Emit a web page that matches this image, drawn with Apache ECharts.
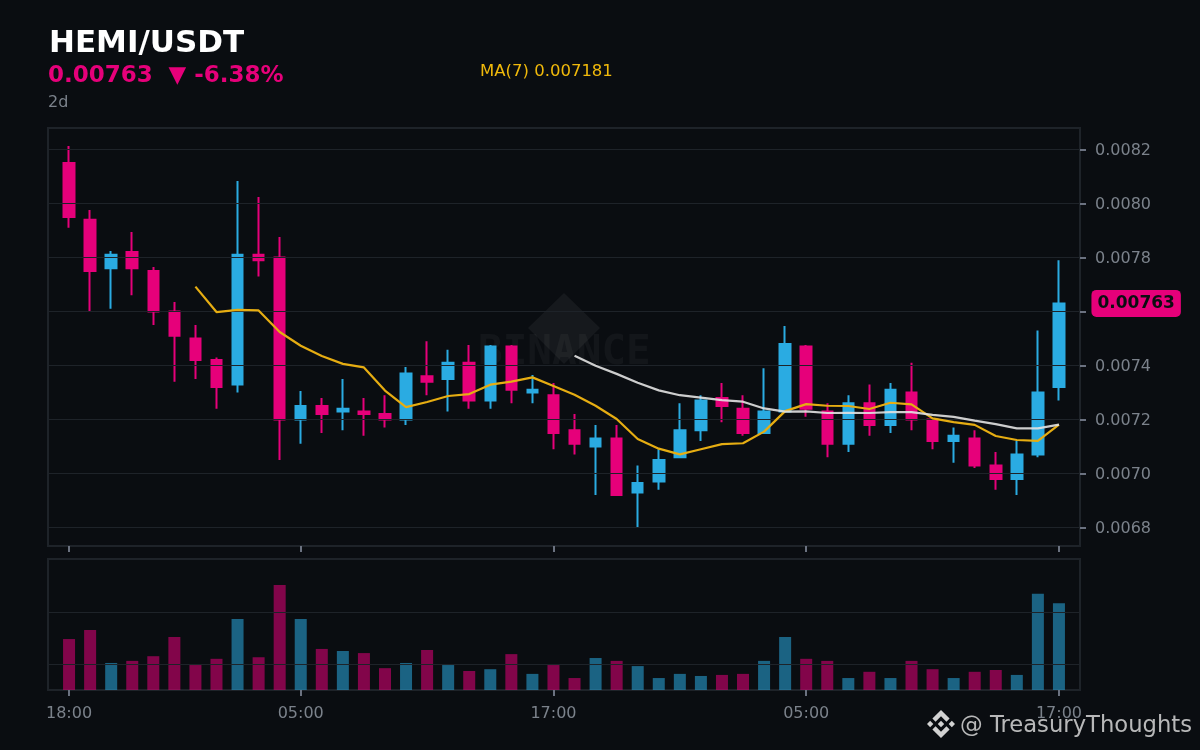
<!DOCTYPE html>
<html>
<head>
<meta charset="utf-8">
<style>html,body{margin:0;padding:0;background:#0a0d11;overflow:hidden}#c{width:1200px;height:750px}</style>
<script src="https://cdn.jsdelivr.net/npm/echarts@6/dist/echarts.min.js"></script>
</head>
<body>
<div id="c"></div>
<script>
// The two empty categories pad the axis by one candle at each end.
const categories = ['', '18:00','19:00','20:00','21:00','22:00','23:00','00:00','01:00','02:00','03:00','04:00','05:00','06:00','07:00','08:00','09:00','10:00','11:00','12:00','13:00','14:00','15:00','16:00','17:00','18:00','19:00','20:00','21:00','22:00','23:00','00:00','01:00','02:00','03:00','04:00','05:00','06:00','07:00','08:00','09:00','10:00','11:00','12:00','13:00','14:00','15:00','16:00','17:00',''];
const labelledCategories = [1, 12, 24, 36, 48];
const opens  = [.00815,.00794,.00776,.00782,.00775,.0076,.0075,.00742,.00733,.00781,.0078,.0072,.00725,.00723,.00723,.00722,.0072,.00736,.00735,.00741,.00727,.00747,.0073,.00729,.00716,.0071,.00713,.00693,.00697,.00706,.00716,.00728,.00724,.00715,.00723,.00747,.00723,.00711,.00726,.00718,.0073,.0072,.00712,.00713,.00703,.00698,.00707,.00732];
const closes = [.00795,.00775,.00781,.00776,.0076,.00751,.00742,.00732,.00781,.00779,.0072,.00725,.00722,.00724,.00722,.0072,.00737,.00734,.00741,.00727,.00747,.00731,.00731,.00715,.00711,.00713,.00692,.006965,.00705,.00716,.00727,.00725,.00715,.00723,.00748,.00724,.00711,.00726,.00718,.00731,.0072,.00712,.00714,.00703,.00698,.00707,.0073,.00763];
const lows   = [.00791,.0076,.00761,.00766,.00755,.00734,.00735,.00724,.0073,.00773,.00705,.00711,.00715,.00716,.00714,.00717,.00718,.00729,.00723,.00724,.00724,.00726,.00726,.00709,.00707,.00692,.006918,.0068,.00694,.00706,.00712,.00719,.00714,.00715,.00723,.00721,.00706,.00708,.00714,.00715,.00716,.00709,.00704,.00702,.00694,.00692,.00706,.00727];
const highs  = [.008213,.007976,.007824,.007894,.007765,.007635,.00755,.00743,.008083,.008024,.007876,.007306,.00728,.00735,.00728,.00729,.007394,.00749,.007458,.007476,.007476,.007476,.007365,.007335,.00722,.00718,.00718,.00703,.00709,.00726,.00729,.007335,.00729,.00739,.007546,.007476,.00726,.00729,.00733,.007335,.00741,.0072,.00717,.00716,.00708,.00712,.00753,.00779];
const ma7 = [null,null,null,null,null,null,.007692,.007598,.007606,.007604,.007524,.007473,.007435,.007406,.007393,.007307,.007246,.007265,.007287,.007294,.007329,.00734,.007356,.007324,.007292,.007251,.007202,.007128,.007092,.007071,.00709,.007109,.007112,.007155,.007231,.007257,.007251,.00725,.007239,.007262,.007256,.007204,.00719,.00718,.007139,.007124,.007121,.007181];
const ma25 = [null,null,null,null,null,null,null,null,null,null,null,null,null,null,null,null,null,null,null,null,null,null,null,null,.007436,.007399,.007369,.007336,.007308,.00729,.007281,.007272,.007266,.007241,.007229,.00723,.007224,.007225,.007224,.007227,.007227,.007217,.00721,.007196,.007183,.007167,.007167,.007181];
const volumes = [1.48,1.654,1.02,1.06,1.15,1.52,.98,1.10,1.865,1.13,2.52,1.865,1.29,1.25,1.21,.92,1.02,1.27,.98,.865,.90,1.19,.81,.98,.73,1.115,1.06,.96,.73,.81,.77,.79,.81,1.06,1.52,1.10,1.06,.73,.85,.73,1.06,.90,.73,.85,.885,.79,2.35,2.17];
const priceTicks = [.0068,.0070,.0072,.0074,.0076,.0078,.0080,.0082];
const volumeTicks = [1, 2];
const lastPrice = 0.00763;

const UP = '#2aabe2', DOWN = '#e6007a', AXIS = '#1e2329', TICK = '#6b7280', LABEL = '#7b828b';
const FONT = '"DejaVu Sans"';
const logoPolygons = [
  [[38.73,53.2],[63.32,28.62],[87.92,53.22],[102.22,38.91],[63.32,0],[24.42,38.9]],
  [[0,63.31],[14.3,49],[28.61,63.31],[14.3,77.61]],
  [[38.73,73.41],[63.32,98],[87.92,73.4],[102.23,87.69],[63.33,126.6],[24.42,87.72]],
  [[98,63.31],[112.3,49.01],[126.61,63.31],[112.3,77.61]],
  [[77.83,63.3],[63.32,48.78],[48.81,63.28],[63.32,77.78]]
];

const showLabel = (i) => labelledCategories.includes(i);
const chart = echarts.init(document.getElementById('c'), null, {renderer: 'canvas'});
chart.setOption({
  animation: false,
  backgroundColor: '#0a0d11',
  title: [
    {text: 'HEMI/USDT', left: 49, top: 28, padding: 0, textStyle: {fontFamily: FONT, fontWeight: 'bold', fontSize: 31, color: '#ffffff'}},
    {text: '0.00763', left: 48, top: 65, padding: 0, textStyle: {fontFamily: FONT, fontWeight: 'bold', fontSize: 23, color: DOWN}},
    {text: '▼ -6.38%', left: 168.5, top: 65, padding: 0, textStyle: {fontFamily: FONT, fontWeight: 'bold', fontSize: 23, color: DOWN}},
    {text: '2d', left: 48, top: 95, padding: 0, textStyle: {fontFamily: FONT, fontWeight: 'normal', fontSize: 16, color: LABEL}},
    {text: 'MA(7) 0.007181', left: 480, top: 63, padding: 0, textStyle: {fontFamily: FONT, fontWeight: 'normal', fontSize: 16.5, color: '#f0b90b'}}
  ],
  grid: [
    {left: 48, right: 120, top: 128, height: 418, show: true, borderColor: AXIS, borderWidth: 2, backgroundColor: 'transparent'},
    {left: 48, right: 120, top: 559, height: 131, show: false}
  ],
  xAxis: [
    {type: 'category', gridIndex: 0, data: categories, boundaryGap: false, z: 0,
     axisLine: {show: false},
     axisTick: {show: true, length: 6, interval: showLabel, lineStyle: {color: TICK, width: 2}},
     axisLabel: {show: true, interval: showLabel, margin: 13, color: LABEL, fontFamily: FONT, fontSize: 16, hideOverlap: false},
     splitLine: {show: false}},
    {type: 'category', gridIndex: 1, data: categories, boundaryGap: false, z: 3,
     axisLine: {show: false},
     axisTick: {show: true, length: 6, interval: showLabel, lineStyle: {color: TICK, width: 2}},
     axisLabel: {show: true, interval: showLabel, margin: 16, color: LABEL, fontFamily: FONT, fontSize: 16, hideOverlap: false},
     splitLine: {show: false}}
  ],
  yAxis: [
    {type: 'value', gridIndex: 0, position: 'right', min: 0.0067315, max: 0.0082796, scale: true, z: 3,
     axisLine: {show: false},
     axisTick: {show: true, length: 6, customValues: priceTicks, lineStyle: {color: TICK, width: 2}},
     axisLabel: {show: true, customValues: priceTicks, margin: 15, formatter: (v) => '{a|' + v.toFixed(4) + '}',
       rich: {a: {color: LABEL, fontFamily: FONT, fontSize: 16, padding: [3, 0, 0, 0]}}},
     splitLine: {show: true, lineStyle: {color: AXIS, width: 1}}},
    {type: 'value', gridIndex: 1, position: 'right', min: 0.5, max: 3.02, scale: true, z: 3,
     axisLine: {show: false},
     axisTick: {show: false, customValues: volumeTicks},
     axisLabel: {show: false, customValues: volumeTicks},
     splitLine: {show: true, lineStyle: {color: AXIS, width: 1}}}
  ],
  graphic: [
    {type: 'rect', z: 1, silent: true, shape: {x: 48, y: 559, width: 1032, height: 131}, style: {fill: '#0a0d11', stroke: AXIS, lineWidth: 2}},
    {type: 'polygon', z: 1, silent: true, shape: {points: [[564, 293], [600, 328], [564, 364], [528, 328]]}, style: {fill: 'rgba(255,255,255,0.05)'}},
    {type: 'text', z: 1, silent: true, x: 478, y: 333, style: {text: 'BINANCE', font: 'bold 41px "DejaVu Sans Mono"', fill: 'rgba(255,255,255,0.04)'}},
    {type: 'group', z: 20, x: 927, y: 710, scaleX: 28 / 126.61, scaleY: 28 / 126.61, silent: true,
     children: logoPolygons.map((pts) => ({type: 'polygon', z: 20, silent: true, shape: {points: pts}, style: {fill: '#d2d2d2'}}))},
    {type: 'text', z: 20, silent: true, x: 960, y: 715, style: {text: '@ TreasuryThoughts', font: '22.7px "DejaVu Sans"', fill: 'rgba(215,215,215,0.85)'}}
  ],
  series: [
    {type: 'candlestick', xAxisIndex: 0, yAxisIndex: 0, z: 2, barWidth: 11,
     encode: {x: 0, y: [1, 2, 3, 4]},
     itemStyle: {color: UP, color0: DOWN, borderColor: UP, borderColor0: DOWN, borderWidth: 2},
     data: opens.map((o, i) => [i + 1, o, closes[i], lows[i], highs[i]])},
    {type: 'line', xAxisIndex: 0, yAxisIndex: 0, z: 6, symbol: 'none', connectNulls: false,
     lineStyle: {color: '#e6ad12', width: 2.2},
     data: ma7.map((v, i) => [i + 1, v]),
     markLine: {silent: true, symbol: 'none', z: 3, animation: false,
       lineStyle: {color: AXIS, width: 1, type: 'solid'}, label: {show: false},
       data: priceTicks.map((v) => ({yAxis: v}))}},
    {type: 'line', xAxisIndex: 0, yAxisIndex: 0, z: 6, symbol: 'none', connectNulls: false,
     lineStyle: {color: '#e2e2e2', width: 2.2, opacity: 0.9},
     data: ma25.map((v, i) => [i + 1, v]),
     markPoint: {silent: true, z: 10, animation: false, symbol: 'rect', symbolSize: 1,
       itemStyle: {color: 'rgba(0,0,0,0)'},
       label: {show: true, position: 'right', distance: 32, formatter: lastPrice.toFixed(5), backgroundColor: DOWN, color: '#0b0e11',
               fontFamily: FONT, fontWeight: 'bold', fontSize: 17, padding: [5, 6, 5, 6], borderRadius: 5},
       data: [{coord: [48, lastPrice]}]}},
    {type: 'bar', xAxisIndex: 1, yAxisIndex: 1, z: 2, barWidth: 12,
     data: volumes.map((v, i) => ({value: [i + 1, v], itemStyle: {color: closes[i] >= opens[i] ? UP : DOWN, opacity: 0.55}}))}
  ]
});
</script>
</body>
</html>
